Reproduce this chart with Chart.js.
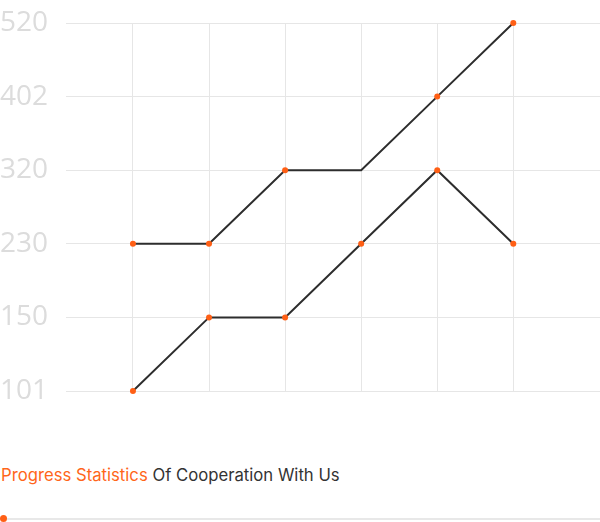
<!DOCTYPE html>
<html>
<head>
<meta charset="utf-8">
<title>Progress Statistics</title>
<script src="https://cdn.jsdelivr.net/npm/chart.js@4/dist/chart.umd.min.js"></script>
<style>
  body { margin: 0; background: #fff; width: 600px; height: 522px; position: relative; overflow: hidden; }
  .chart-box { position: absolute; left: 0; top: 0; width: 603px; height: 414px; }
  .caption { position: absolute; left: 1px; top: 465px; font: 16.7px/20px Inter, "Noto Sans", sans-serif; color: #333; white-space: nowrap; }
  .caption span { color: #ff661a; }
  .track { position: absolute; left: 0; top: 518px; width: 600px; height: 2px; background: #e8e8e8; }
  .knob { position: absolute; left: 0; top: 515px; width: 7px; height: 7px; border-radius: 50%; background: #ff5f15; }
</style>
</head>
<body>
<div class="chart-box"><canvas id="progressChart"></canvas></div>
<div class="caption"><span>Progress Statistics</span> Of Cooperation With Us</div>
<div class="track"></div>
<div class="knob"></div>

<script>
// x positions of the points, and the y tick labels (evenly spaced on the chart)
const categories = [1, 2, 3, 4, 5, 6];
const yTicks = [101, 150, 230, 320, 402, 520];

// series values
const upperSeries = [230, 230, 320, 320, 402, 520];
const lowerSeries = [101, 150, 150, 230, 320, 230];

const lineColor = '#2d2d2d';
const dotColor = '#ff5f15';
const gridColor = '#e6e6e6';

document.addEventListener('DOMContentLoaded', () => {
  const ctx = document.getElementById('progressChart').getContext('2d');

  const makeSet = (data, radius) => ({
    data: data,
    borderColor: lineColor,
    borderWidth: 2,
    tension: 0,
    fill: false,
    pointBackgroundColor: dotColor,
    pointBorderWidth: 0,
    pointRadius: radius,
    pointHoverRadius: radius
  });

  new Chart(ctx, {
    type: 'line',
    data: {
      labels: categories,
      datasets: [
        makeSet(upperSeries, [3, 3, 3, 0, 3, 3]),
        makeSet(lowerSeries, 3)
      ]
    },
    options: {
      responsive: true,
      maintainAspectRatio: false,
      animation: false,
      layout: { padding: { top: 2, bottom: 0, right: 0, left: 0 } },
      plugins: { legend: { display: false }, tooltip: { enabled: false } },
      scales: {
        x: {
          type: 'linear',
          min: 0.12,
          max: 7.14,
          afterBuildTicks: scale => {
            // grid at every point column plus the right edge
            scale.ticks = categories.concat([scale.max]).map(v => ({ value: v }));
          },
          ticks: { display: false },
          grid: { color: gridColor, drawTicks: false },
          border: { display: false }
        },
        y: {
          type: 'category',
          labels: yTicks,
          reverse: true,
          offset: false,
          ticks: {
            color: '#dcdcdc',
            font: { family: 'Open Sans', size: 28, lineHeight: 1.0 },
            padding: 9,
            crossAlign: 'far',
            callback: function (v) { return String(this.getLabelForValue(v)); }
          },
          grid: { color: gridColor, drawTicks: false },
          border: { display: false }
        }
      }
    }
  });
});
</script>
</body>
</html>
